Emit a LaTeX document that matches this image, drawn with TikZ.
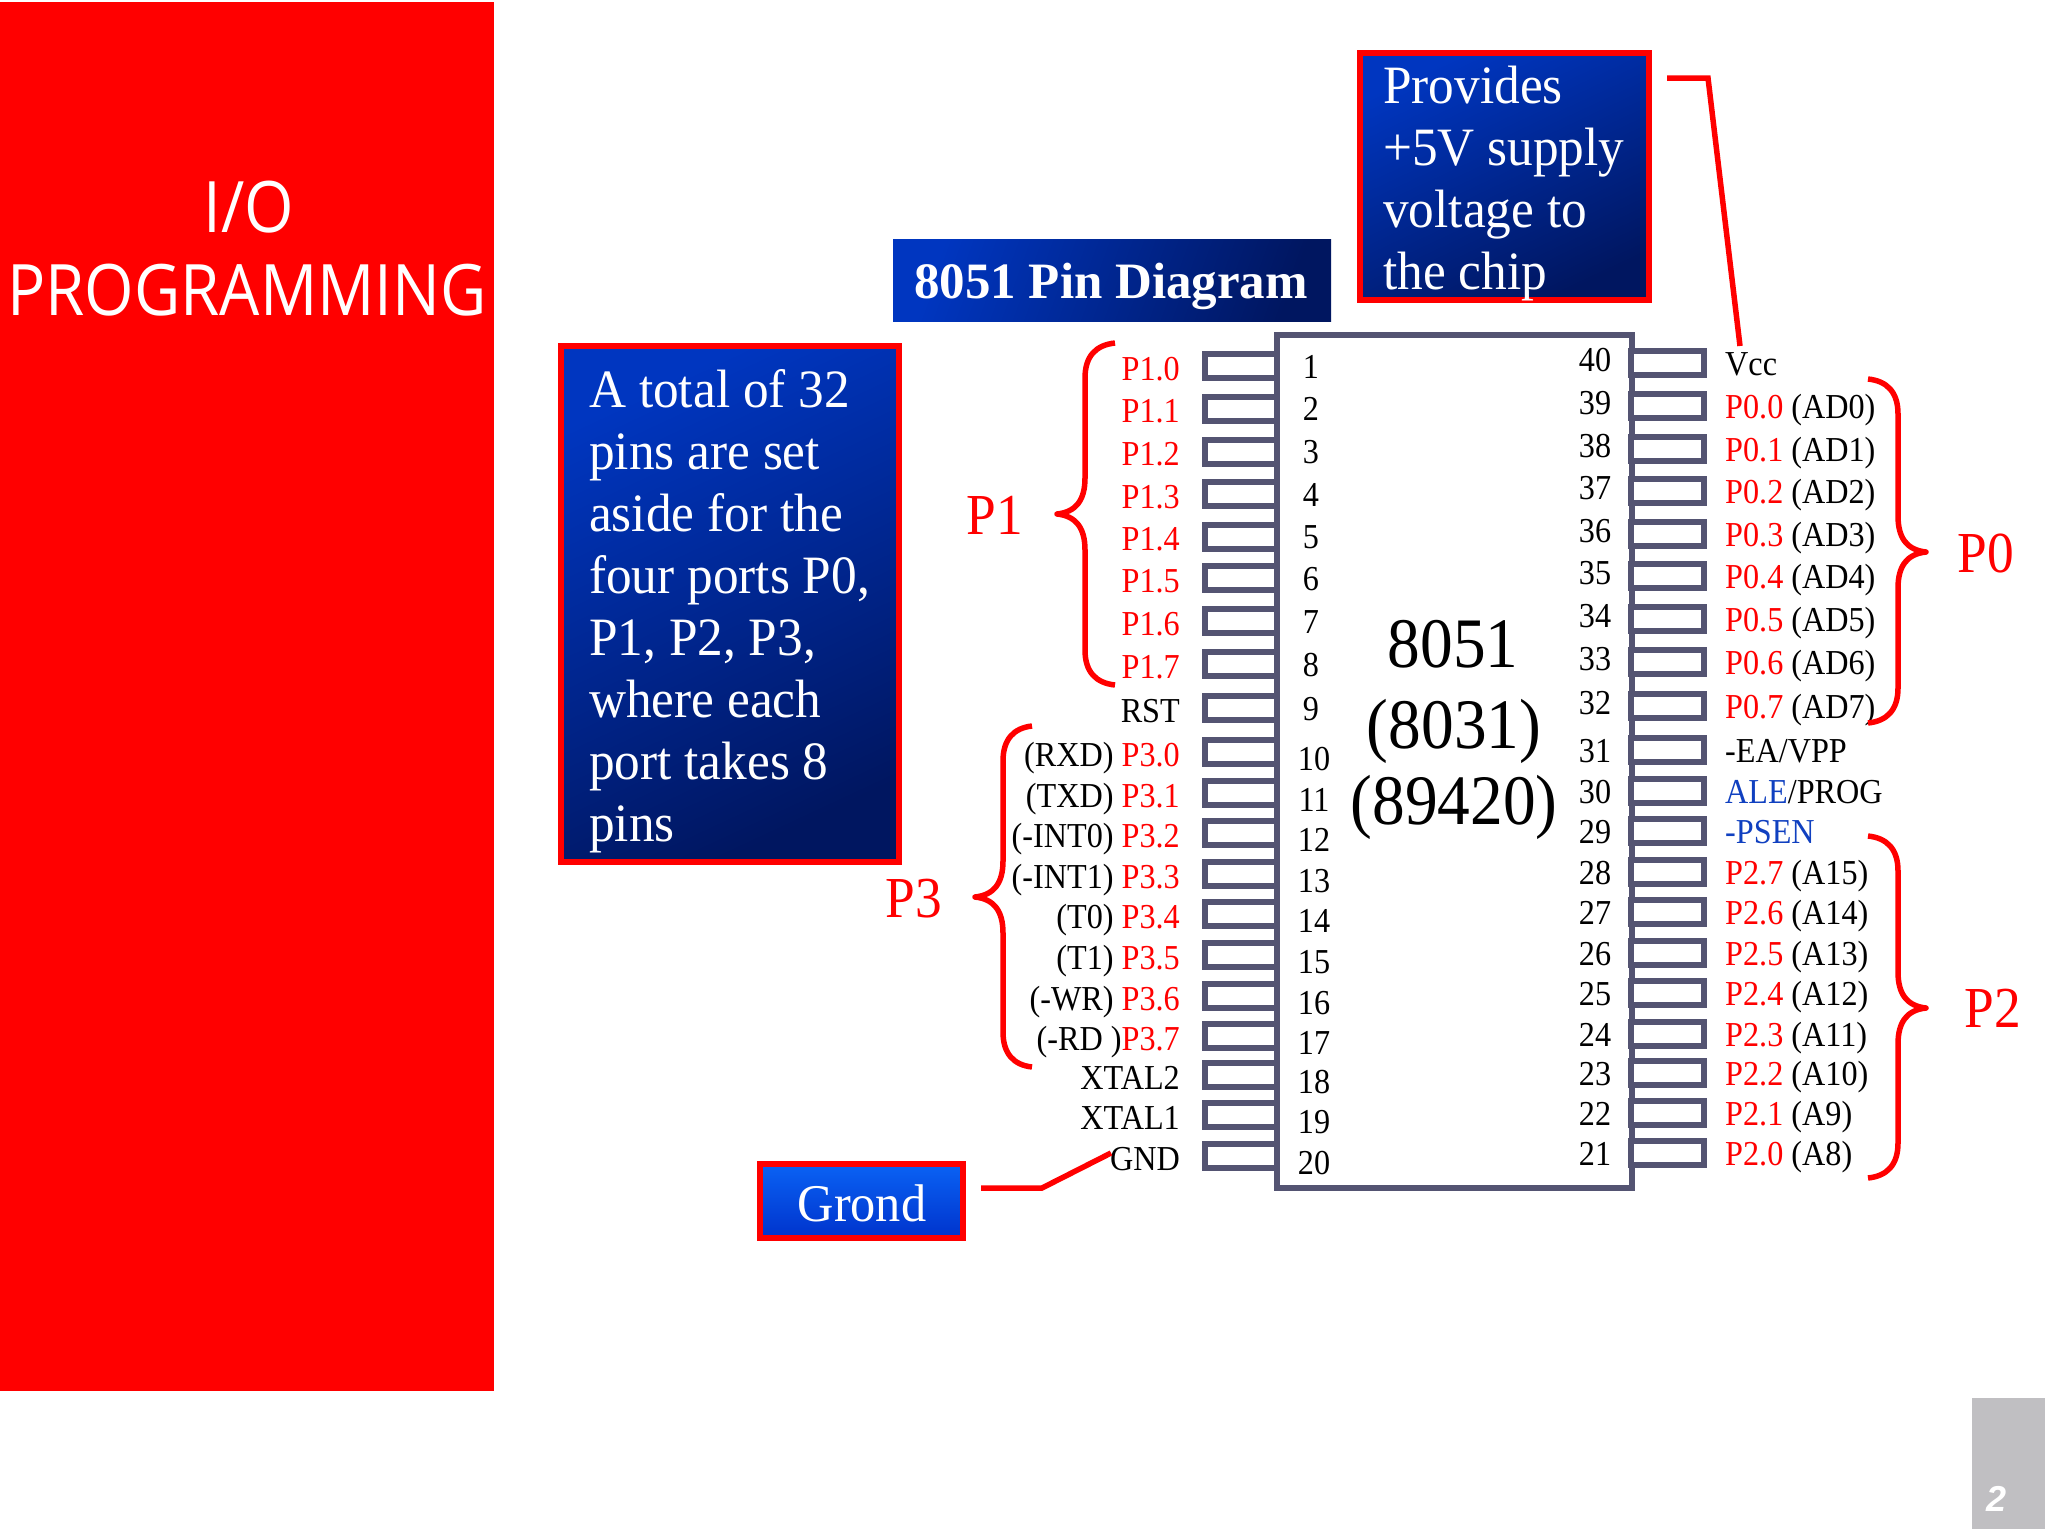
\documentclass[tikz,border=0pt]{standalone}
\usepackage{fontspec}
\setmainfont{Liberation Serif}
\newfontfamily\cond[FakeStretch=0.92]{Liberation Serif}
\newfontfamily\boxfont[FakeStretch=0.95]{Liberation Serif}
\newfontfamily\headfont[FakeStretch=0.895]{Open Sans}
\newfontfamily\pagefont{Liberation Sans}
\definecolor{chipc}{HTML}{545472}
\definecolor{bluehi}{HTML}{0036C0}
\definecolor{bluelo}{HTML}{001660}
\definecolor{groundhi}{HTML}{0A62F4}
\definecolor{groundlo}{HTML}{0033CC}
\definecolor{redc}{HTML}{FF0000}
\definecolor{portblue}{HTML}{1040C0}
\definecolor{pagegray}{HTML}{C0BFC2}
\tikzset{
  pinbox/.style={draw=chipc,line width=6pt,fill=white},
  chipbody/.style={draw=chipc,line width=6pt,fill=white},
  bracestroke/.style={draw=redc,line width=5.5pt,line join=round},
  leader/.style={draw=redc,line width=5.5pt},
  leftlab/.style={anchor=base east,inner sep=0pt,font=\cond\fontsize{35}{35}\selectfont},
  rightlab/.style={anchor=base west,inner sep=0pt,font=\cond\fontsize{35}{35}\selectfont},
  numlab/.style={anchor=base,inner sep=0pt,font=\cond\fontsize{35}{35}\selectfont},
  portlab/.style={anchor=base,inner sep=0pt,text=redc,font=\cond\fontsize{58}{58}\selectfont},
  chiplab/.style={anchor=base,inner sep=0pt,font=\cond\fontsize{71}{71}\selectfont},
  infobox/.style={rectangle,draw=redc,line width=6pt,inner sep=0pt,top color=bluehi,bottom color=bluelo,shading angle=25},
  boxtext/.style={anchor=west,inner sep=0pt,text=white,align=left,font=\boxfont\fontsize{54}{62}\selectfont},
  titletext/.style={anchor=base,inner sep=0pt,text=white,font=\headfont\fontsize{71}{71}\selectfont},
}
\newcommand{\rd}[1]{\textcolor{redc}{#1}}
\newcommand{\bl}[1]{\textcolor{portblue}{#1}}
\begin{document}
\begin{tikzpicture}[x=1pt,y=-1pt]
\useasboundingbox (0,0) rectangle (2048,1531);
\fill[white] (0,0) rectangle (2048,1531);
% red panel
\fill[redc] (0,2) rectangle (494,1391);
\node[titletext] (titleA) at (249,232) {I/O};
\node[titletext] (titleB) at (247,315) {PROGRAMMING};
% heading
\node[rectangle,inner sep=0pt,minimum width=438pt,minimum height=82pt,top color=bluehi,bottom color=bluelo,shading angle=70] (headbox) at (1112,280) {};
\node[anchor=base,inner sep=0pt,text=white,font=\bfseries\fontsize{51}{51}\selectfont] (head) at (1111,298) {8051 Pin Diagram};
% info boxes
\node[infobox,minimum width=289pt,minimum height=247pt] (provbox) at (1504.5,176.5) {};
\node[boxtext] (provtext) at (1383,183.5) {Provides\\+5V supply\\voltage to\\the chip};
\node[infobox,minimum width=338pt,minimum height=516pt] (totbox) at (730,604) {};
\node[boxtext] (tottext) at (589,611) {A total of 32\\pins are set\\aside for the\\four ports P0,\\P1, P2, P3,\\where each\\port takes 8\\pins};
\node[infobox,minimum width=203pt,minimum height=74pt,top color=groundhi,bottom color=groundlo] (gndbox) at (861.5,1201) {};
\node[anchor=base,inner sep=0pt,text=white,font=\boxfont\fontsize{53}{53}\selectfont] (gndtext) at (862,1221) {Grond};
% chip body
\node[rectangle,chipbody,inner sep=0pt,minimum width=354.5pt,minimum height=853pt] (chip) at (1454.25,761.5) {};
\foreach \n/\t/\x/\y in {A/8051/1453/667,B/(8031)/1454/748,C/(89420)/1454/824}{
  \node[chiplab] (chip\n) at (\x,\y) {\t};
}
% left pins
\foreach \n/\c/\lab in {
 1/366/\rd{P1.0},2/408.5/\rd{P1.1},3/451.5/\rd{P1.2},4/494/\rd{P1.3},5/536.5/\rd{P1.4},6/578/\rd{P1.5},7/621/\rd{P1.6},8/664/\rd{P1.7},
 9/708/RST,
 10/752/(RXD) \rd{P3.0},11/793/(TXD) \rd{P3.1},12/833/(-INT0) \rd{P3.2},13/874/(-INT1) \rd{P3.3},14/914/(T0) \rd{P3.4},15/955/(T1) \rd{P3.5},16/996/(-WR) \rd{P3.6},17/1036/(-RD )\rd{P3.7},
 18/1075/XTAL2,19/1115/XTAL1,20/1156/GND}{
  \draw[pinbox] (1205,\c-12) rectangle (1277,\c+12);
  \node[leftlab] (lab\n) at (1180,\c+14) {\lab};
  \pgfmathsetmacro\off{\n<10?12:18}
  \pgfmathsetmacro\numx{\n<10?1311:1314}
  \node[numlab] (num\n) at (\numx,\c+\off) {\n};
}
% right pins
\foreach \n/\c/\lab in {
 40/363/Vcc,
 39/406/\rd{P0.0} (AD0),38/449/\rd{P0.1} (AD1),37/491/\rd{P0.2} (AD2),36/534/\rd{P0.3} (AD3),35/576/\rd{P0.4} (AD4),34/619/\rd{P0.5} (AD5),33/662/\rd{P0.6} (AD6),32/706/\rd{P0.7} (AD7),
 31/750/{-EA/VPP},30/791/{\bl{ALE}/PROG},29/831/\bl{-PSEN},
 28/872/\rd{P2.7} (A15),27/912/\rd{P2.6} (A14),26/953/\rd{P2.5} (A13),25/993/\rd{P2.4} (A12),24/1034/\rd{P2.3} (A11),23/1073/\rd{P2.2} (A10),22/1113/\rd{P2.1} (A9),21/1153/\rd{P2.0} (A8)}{
  \draw[pinbox] (1631,\c-12) rectangle (1704,\c+12);
  \node[rightlab] (lab\n) at (1725,\c+12) {\lab};
  \pgfmathsetmacro\off{\n>31?8.5:12.5}
  \node[numlab] (num\n) at (1595,\c+\off) {\n};
}
% port labels
\node[portlab] (pA) at (995,534) {P1};
\node[portlab] (pB) at (914,917) {P3};
\node[portlab] (pC) at (1986,572) {P0};
\node[portlab] (pD) at (1993,1027) {P2};
% braces
\draw[bracestroke] (1115,343) .. controls (1096,345) and (1085,356) .. (1085,378) -- (1085,478) .. controls (1085,500) and (1076,512) .. (1057,514) .. controls (1076,516) and (1085,528) .. (1085,550) -- (1085,650) .. controls (1085,672) and (1096,683) .. (1115,685);
\draw[bracestroke] (1032,726) .. controls (1014,728) and (1003,739) .. (1003,761) -- (1003,861) .. controls (1003,883) and (994,895) .. (975,897) .. controls (994,899) and (1003,911) .. (1003,933) -- (1003,1032) .. controls (1003,1054) and (1014,1065) .. (1032,1067);
\draw[bracestroke] (1868,379) .. controls (1887,381) and (1898,392) .. (1898,414) -- (1898,516) .. controls (1898,538) and (1907,550) .. (1926,552) .. controls (1907,554) and (1898,566) .. (1898,588) -- (1898,688) .. controls (1898,710) and (1887,721) .. (1868,723);
\draw[bracestroke] (1868,836) .. controls (1887,838) and (1898,849) .. (1898,871) -- (1898,972) .. controls (1898,994) and (1907,1006) .. (1926,1008) .. controls (1907,1010) and (1898,1022) .. (1898,1044) -- (1898,1143) .. controls (1898,1165) and (1887,1176) .. (1868,1178);
% leaders
\coordinate (provgap) at (1667,78);
\coordinate (provbend) at (1708,78);
\coordinate (vcctop) at (1740,346);
\draw[leader] (provgap) -- (provbend) -- (vcctop);
\coordinate (gndgap) at (981,1188);
\coordinate (gndbend) at (1042,1188);
\coordinate (gndtop) at (1111,1153);
\draw[leader] (gndgap) -- (gndbend) -- (gndtop);
% page tag
\node[rectangle,inner sep=0pt,minimum width=73pt,minimum height=131pt,fill=pagegray] (pagebox) at (2008.5,1463.5) {};
\node[anchor=center,inner sep=0pt,text=white,font=\pagefont\bfseries\itshape\fontsize{36}{36}\selectfont] (pagenum) at (1996,1499) {2};
\end{tikzpicture}
\end{document}
